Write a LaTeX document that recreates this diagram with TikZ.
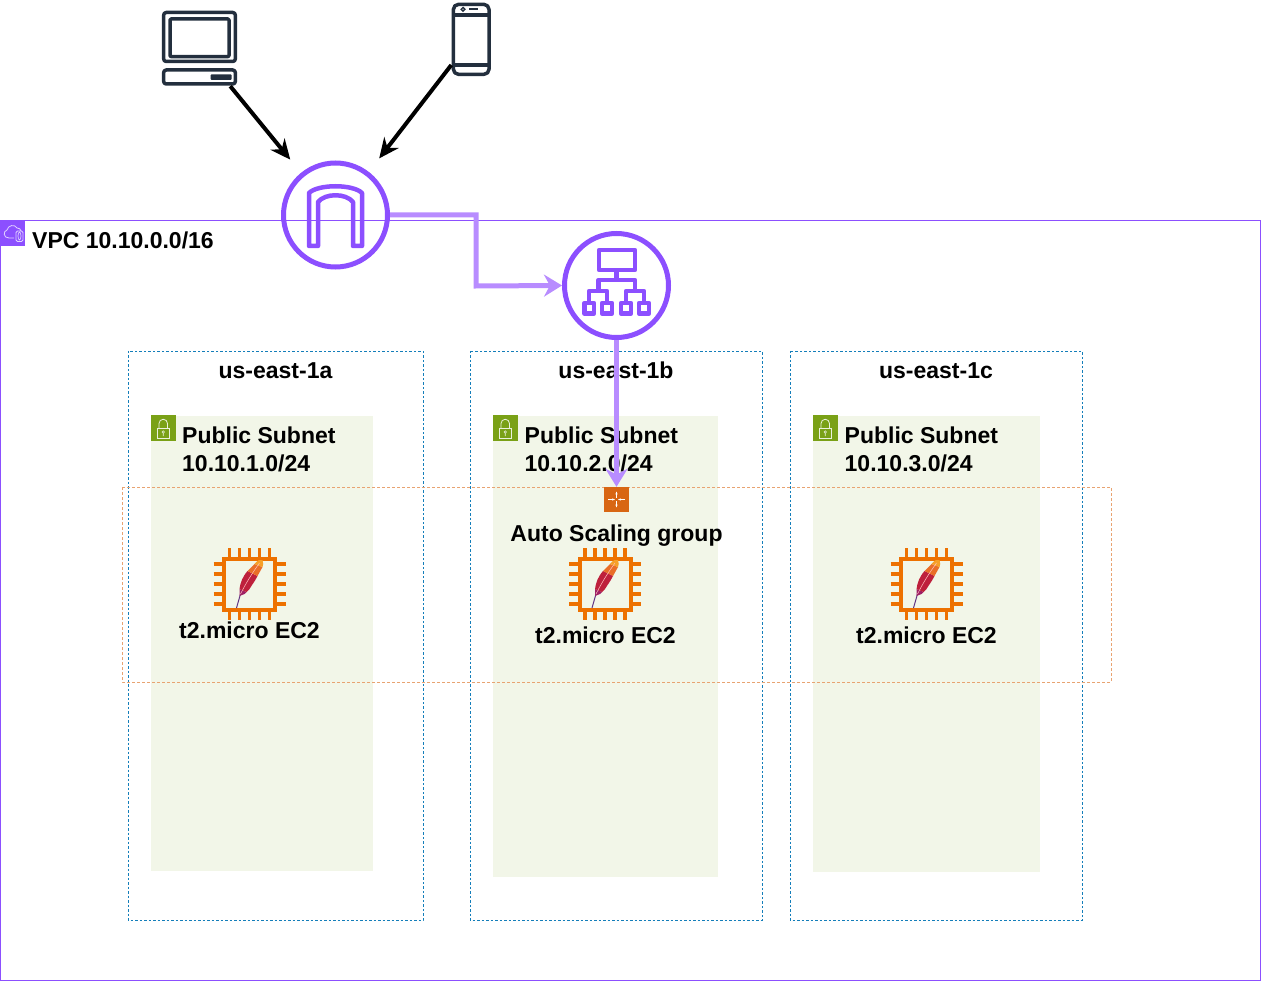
\documentclass[tikz,border=0pt]{standalone}
\usepackage{fontspec}
\setmainfont{Liberation Sans}
\usetikzlibrary{positioning, arrows.meta}

\definecolor{awspurple}{HTML}{8C4FFF}
\definecolor{linkpurple}{HTML}{B88CFF}
\definecolor{awsink}{HTML}{232F3E}
\definecolor{awsgreen}{HTML}{7AA116}
\definecolor{subnetbg}{HTML}{F2F6E8}
\definecolor{awsorange}{HTML}{ED7100}
\definecolor{asgorange}{HTML}{D86613}
\definecolor{azblue}{HTML}{147EBA}

\tikzset{
    lbl/.style={font=\bfseries\fontsize{23}{28}\selectfont, inner sep=0pt, text=black},
    az/.style={draw=azblue, dash pattern=on 2.5pt off 2pt, line width=.9pt},
    subnet/.style={fill=subnetbg},
    gw/.style={circle, draw=awspurple, line width=5pt, minimum size=104pt, inner sep=0pt},
    client/.style={draw=none, inner sep=0pt},
    inner/.style={draw=awspurple, line width=4.5pt, line join=round},
    ink/.style={draw=awsink, line width=3.5pt, line join=round},
    pics/ec2/.style={code={
        \draw[awsorange, line width=4pt] (-25.5,-25.5) rectangle (25.5,25.5);
        \foreach \p in {-20,-10,0,10,20} {
            \draw[awsorange, line width=3.5pt] (\p,-36) -- (\p,-27) (\p,27) -- (\p,36);
            \draw[awsorange, line width=3.5pt] (-36,\p) -- (-27,\p) (27,\p) -- (36,\p);
        }
        \draw[color={rgb,255:red,96;green,50;blue,130}, line width=1pt] (-9,10) -- (-13,24);
        \fill[color={rgb,255:red,158;green,32;blue,100}] (-10,12) -- (-10,5) -- (-3,8) -- (-5,10) -- cycle;
        \fill[color={rgb,255:red,190;green,32;blue,60}] (-10,5) .. controls (-9,-2) and (-7,-7) .. (-2,-13) -- (8,-8) .. controls (5,-2) and (3,0) .. (0,5) -- (-3,8) -- cycle;
        \fill[color={rgb,255:red,233;green,110;blue,40}] (-2,-13) -- (5,-20) -- (13,-17) -- (8,-8) -- cycle;
        \fill[color={rgb,255:red,246;green,160;blue,40}] (5,-20) .. controls (8,-24) and (11,-25) .. (13,-24) .. controls (14,-21) and (14,-19) .. (13,-17) -- cycle;
        \draw[white!75!red, line width=.5pt] (-9,10) .. controls (-4,0) and (2,-10) .. (10,-21);
    }},
    pics/lock/.style={code={
        \fill[awsgreen] (0,0) rectangle (25,25);
        \draw[white!85!awsgreen, line width=.8pt] (6.5,12.5) rectangle (19,23);
        \draw[white!85!awsgreen, line width=.8pt] (8.5,12.5) -- (8.5,8) arc[start angle=180, end angle=360, radius=4.25] -- (17,12.5);
        \draw[white!85!awsgreen, line width=.6pt] (12.75,16.5) circle (1.3) (12.75,17.8) -- (12.75,20.5);
    }}
}

\begin{document}
\begin{tikzpicture}[x=1pt, y=-1pt]
    \useasboundingbox (0,0) rectangle (1261,981);
    % vpc
    \draw[awspurple, line width=.8pt] (.5,220.5) rectangle (1260.5,980.5);
    \fill[awspurple] (0,220) rectangle (25,246);
    \draw[white!75!awspurple, line width=.8pt] (14,238) -- (9,238) .. controls (3,238) and (3,231) .. (7,230) .. controls (8,225) and (15,224) .. (17,228) .. controls (19,228) and (21,229) .. (21,231);
    \draw[white!75!awspurple, line width=.8pt, rounded corners=1.5pt] (16,231) rectangle (23,241.5);
    \draw[white!75!awspurple, line width=.7pt] (19.5,236) ellipse (1.5 and 4);
    \node[lbl, anchor=west] (vpc_lbl) at (32,240) {VPC 10.10.0.0/16};

    % zones
    \draw[az] (128,351) rectangle (423,920);
    \draw[az] (470,351) rectangle (762,920);
    \draw[az] (790,351) rectangle (1082,920);
    \node[lbl] (az_a) at (275.5,370.5) {us-east-1a};
    \node[lbl] (az_b) at (616,370.5) {us-east-1b};
    \node[lbl] (az_c) at (936,370.5) {us-east-1c};

    % subnets
    \fill[subnet] (151,416) rectangle (373,871);
    \fill[subnet] (493,416) rectangle (718,877);
    \fill[subnet] (813,416) rectangle (1040,872);
    \pic at (150.5,415.5) {lock};
    \pic at (492.5,415.5) {lock};
    \pic at (812.5,415.5) {lock};
    \node[lbl, anchor=west, align=left] (sub_a) at (182,449) {Public Subnet\\10.10.1.0/24};
    \node[lbl, anchor=west, align=left] (sub_b) at (524.5,449) {Public Subnet\\10.10.2.0/24};
    \node[lbl, anchor=west, align=left] (sub_c) at (844.5,449) {Public Subnet\\10.10.3.0/24};

    % auto scaling
    \draw[asgorange!60, dash pattern=on 3pt off 2pt, line width=1pt] (122,487) rectangle (1111,682);
    \node[fill=asgorange, minimum size=25pt, inner sep=0pt] (asg) at (616.5,499.5) {};
    \draw[white, line width=.6pt, -{Stealth[length=3pt]}] (616.5,498) -- (616.5,491.5);
    \draw[white, line width=.6pt, -{Stealth[length=3pt]}] (616.5,501) -- (616.5,507.5);
    \draw[white, line width=.6pt, -{Stealth[length=3pt]}] (608,499.5) -- (615,499.5);
    \draw[white, line width=.6pt, -{Stealth[length=3pt]}] (625,499.5) -- (618,499.5);
    \node[lbl] (asg_lbl) [below=12pt of asg] {Auto Scaling group};

    % instances
    \pic (ec2a) at (249.5,584) {ec2};
    \pic (ec2b) at (605,584) {ec2};
    \pic (ec2c) at (926.5,584) {ec2};
    \node[lbl] (ec2a_lbl) at (249.5,630) {t2.micro EC2};
    \node[lbl] (ec2b_lbl) at (605.5,635) {t2.micro EC2};
    \node[lbl] (ec2c_lbl) at (926.5,635) {t2.micro EC2};

    % clients
    \node[client, minimum width=75pt, minimum height=75pt] (laptop) at (199.5,48.5) {};
    \draw[ink, rounded corners=2.5pt] (163.7,12.5) rectangle (235.3,61.5);
    \draw[ink, rounded corners=1pt] (170,19) rectangle (229,56.6);
    \draw[ink, rounded corners=2.5pt] (163.7,70) rectangle (235.3,84);
    \fill[awsink, rounded corners=1pt] (210.7,74.3) rectangle (231.7,80);

    \node[client, minimum width=39pt, minimum height=73.5pt] (phone) at (471,39.5) {};
    \draw[ink, rounded corners=5pt] (453.4,4.4) rectangle (489,74.3);
    \draw[ink] (453.4,15) -- (489,15) (453.4,65) -- (489,65);
    \draw[awsink, line width=1.4pt] (463,9.3) circle (1.8);
    \draw[awsink, line width=2.4pt] (469,9.3) -- (478,9.3);

    % gateways
    \node[gw] (igw) at (335.5,215) {};
    \draw[inner] (309,246) -- (309,193) .. controls (318,184) and (353,184) .. (362,193) -- (362,246) -- (353,246) -- (353,202) .. controls (346,193) and (325,193) .. (318,202) -- (318,246) -- cycle;

    \node[gw] (alb) at (616.5,285.5) {};
    \draw[inner] (599,250) rectangle (635,270);
    \draw[inner] (616.7,270) -- (616.7,280) (598.5,291) -- (598.5,280) -- (635,280) -- (635,291);
    \draw[inner] (589,302) -- (589,291) -- (607,291) -- (607,302);
    \draw[inner] (626,302) -- (626,291) -- (644,291) -- (644,302);
    \draw[inner] (584.5,303) rectangle (594,313.5);
    \draw[inner] (602,303) rectangle (612,313.5);
    \draw[inner] (621,303) rectangle (631,313.5);
    \draw[inner] (639,303) rectangle (649,313.5);

    % connectors
    \path[-{Stealth[length=20pt, width=18pt]}, draw=black, line width=4pt, shorten >=17pt]
        (laptop) edge (igw)
        (phone) edge (igw);
    \draw[-{Stealth[length=18pt, width=22pt]}, draw=linkpurple, line width=5pt]
        (igw.east) -- (476,215) -- (476,286) -- (alb.west);
    \draw[-{Stealth[length=18pt, width=22pt]}, draw=linkpurple, line width=5pt]
        (alb.south -| asg.north) -- (asg.north);
\end{tikzpicture}
\end{document}
